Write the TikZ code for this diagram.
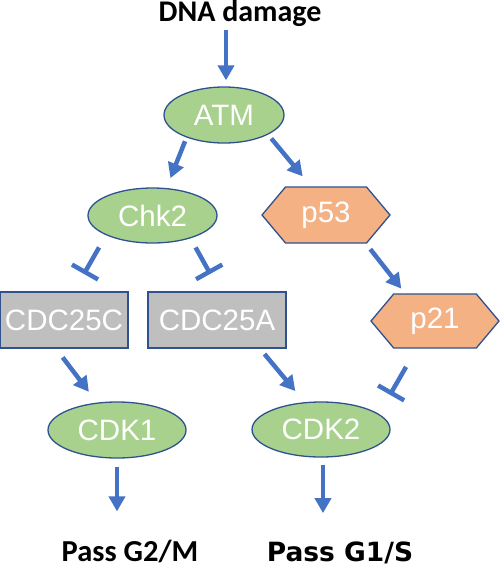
\documentclass[tikz,border=0pt]{standalone}
\usepackage{fontspec}
\usetikzlibrary{shapes.geometric, shapes.symbols, arrows.meta, calc}
\definecolor{nodegreen}{RGB}{169, 209, 142}
\definecolor{nodeorange}{RGB}{244, 177, 131}
\definecolor{nodegray}{RGB}{191, 191, 191}
\definecolor{edgeblue}{RGB}{47, 82, 143}
\definecolor{arrowblue}{RGB}{68, 114, 196}
\newfontfamily\boxfont{Liberation Sans}
\newfontfamily\headfont{Carlito}
\newfontfamily\passfont{DejaVu Sans}

\begin{document}
\begin{tikzpicture}[x=1pt, y=-1pt,
    kinase/.style={ellipse, draw=edgeblue, line width=1.3pt, fill=nodegreen, inner sep=0pt,
      text=white, font=\boxfont\fontsize{29.5}{30}\selectfont},
    factor/.style={signal, signal to=west and east, signal pointer angle=100, draw=edgeblue,
      line width=1.3pt, fill=nodeorange, inner sep=0pt, text=white, font=\boxfont\fontsize{29.5}{30}\selectfont},
    phosph/.style={rectangle, draw=edgeblue, line width=1.3pt, fill=nodegray, inner sep=0pt,
      text=white, font=\boxfont\fontsize{29.5}{30}\selectfont},
    arr/.style={-{Triangle[width=16pt, length=15pt]}, line width=4.5pt, arrowblue},
    inhib/.style={-{Bar[width=30pt]}, line width=4.5pt, arrowblue}]
  \useasboundingbox (0,0) rectangle (500,568);

  % Signal
  \node[anchor=base, inner sep=0pt, font=\headfont\bfseries\fontsize{30}{32}\selectfont] (DNA) at (240,21) {DNA damage};

  % Kinases and effectors
  \node[kinase, minimum width=120pt, minimum height=56pt] (ATM) at (224,115) {ATM};
  \node[kinase, minimum width=129pt, minimum height=55pt] (Chk2) at (152.5,215.5) {Chk2};
  \node[factor, minimum width=128pt, minimum height=56pt] (p53) at (326,215) {p53};
  \node[phosph, minimum width=128pt, minimum height=56pt] (CDC25C) at (64,320) {CDC25C};
  \node[phosph, minimum width=138pt, minimum height=56pt] (CDC25A) at (217,320) {CDC25A};
  \node[factor, minimum width=128pt, minimum height=54pt] (p21) at (435,321) {p21};
  \node[kinase, minimum width=138pt, minimum height=56pt] (CDK1) at (117,430) {CDK1};
  \node[kinase, minimum width=138pt, minimum height=55pt] (CDK2) at (321,429.5) {CDK2};

  % Checkpoints
  \node[anchor=base, inner sep=0pt, font=\headfont\bfseries\fontsize{30.5}{32}\selectfont] (G2M) at (130,561.5) {Pass G2/M};
  \node[anchor=base, inner sep=0pt, font=\passfont\bfseries\fontsize{26.5}{28}\selectfont] (G1S) at (340,561.5) {Pass G1/S};

  % Activation
  \draw[arr, shorten <=4pt, shorten >=6pt] ([xshift=2pt]ATM.north |- DNA.south) -- ([xshift=2pt]ATM.north);
  \draw[arr, shorten <=4pt, shorten >=10.6pt] (ATM.211) -- (Chk2.63);
  \draw[arr, shorten <=5pt, shorten >=13pt] (ATM.-24) -- ([xshift=-15pt]p53.north);
  \draw[arr, shorten <=7pt, shorten >=6pt] ([xshift=40pt]p53.south) -- ([xshift=-30pt]p21.north);
  \draw[arr, shorten <=11pt, shorten >=13.5pt] ([xshift=-8pt]CDC25C.south) -- (CDK1.126);
  \draw[arr, shorten <=7pt, shorten >=14.4pt] ([xshift=43pt]CDC25A.south) -- (CDK2.121);
  \draw[arr, shorten <=8pt, shorten >=28.5pt] (CDK1.south) -- (CDK1.south |- G2M.north);
  \draw[arr, shorten <=7pt, shorten >=28.5pt] ([xshift=2pt]CDK2.south) -- ([xshift=2pt]CDK2.south |- G1S.north);

  % Inhibition
  \draw[inhib, shorten <=14pt, shorten >=20pt] (Chk2.203) -- ([xshift=10pt]CDC25C.north);
  \draw[inhib, shorten <=10.4pt, shorten >=20pt] (Chk2.-31) -- ([xshift=3pt]CDC25A.north);
  \draw[inhib, shorten <=21pt, shorten >=22pt] ([xshift=-18.5pt]p21.south) -- (CDK2.15);
\end{tikzpicture}
\end{document}
